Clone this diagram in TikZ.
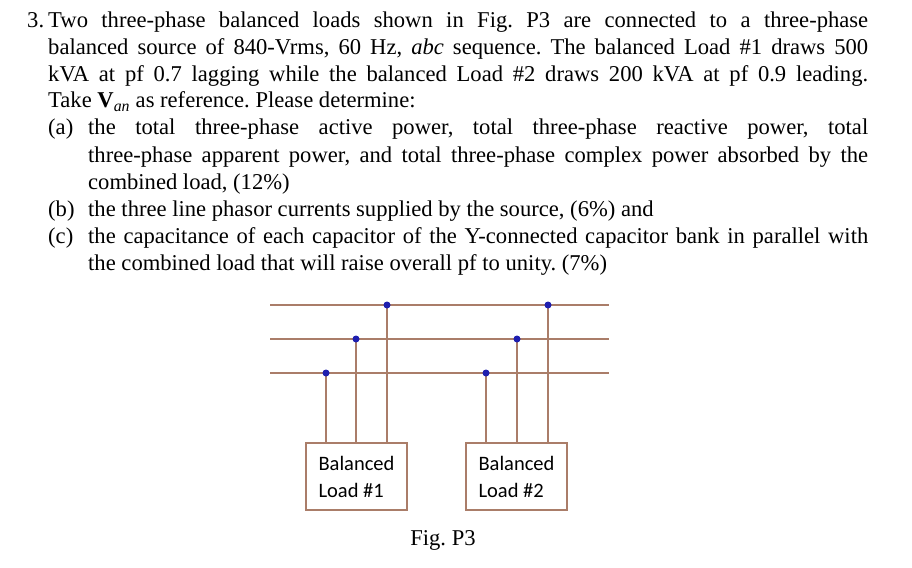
\documentclass[tikz,border=0pt]{standalone}
\usepackage{fontspec}
\setmainfont{Liberation Serif}
\newfontfamily\boxfont{Carlito}
\definecolor{wire}{RGB}{170,125,105}
\definecolor{dotc}{RGB}{30,30,175}
\frenchspacing
\begin{document}
\begin{tikzpicture}[x=1pt,y=-1pt,
  txt/.style={anchor=base west,inner sep=0pt,font=\fontsize{22.6}{25}\selectfont},
  wirel/.style={draw=wire,line width=1.1pt},
  jdot/.style={circle,fill=dotc,inner sep=0pt,minimum size=7pt},
  loadbox/.style={draw=wire,line width=1.1pt,minimum width=101pt,minimum height=67pt,inner sep=0pt,font=\boxfont\fontsize{20.5}{27}\selectfont,align=left}]
\useasboundingbox (0,0) rectangle (912,567);
\fill[white] (0,0) rectangle (912,567);
\node[txt] (n3) at (27,28) {3.};
\node[txt] (l1) at (48,28) {\makebox[820pt][s]{Two three-phase balanced loads shown in Fig. P3 are connected to a three-phase}};
\node[txt] (l2) at (48,55) {\makebox[820pt][s]{balanced source of 840-Vrms, 60 Hz, \textit{abc} sequence. The balanced Load \#1 draws 500}};
\node[txt] (l3) at (48,82) {\makebox[820pt][s]{kVA at pf 0.7 lagging while the balanced Load \#2 draws 200 kVA at pf 0.9 leading.}};
\node[txt] (l4) at (48,108) {Take \textbf{V}\textsubscript{\textit{an}} as reference. Please determine:};
\node[txt] (la) at (48,135) {(a)};
\node[txt] (l5) at (88,135) {\makebox[780pt][s]{the total three-phase active power, total three-phase reactive power, total}};
\node[txt] (l6) at (88,162) {\makebox[780pt][s]{three-phase apparent power, and total three-phase complex power absorbed by the}};
\node[txt] (l7) at (88,189) {combined load, (12\%)};
\node[txt] (lb) at (48,216) {(b)};
\node[txt] (l8) at (88,216) {the three line phasor currents supplied by the source, (6\%) and};
\node[txt] (lc) at (48,243) {(c)};
\node[txt] (l9) at (88,243) {\makebox[780pt][s]{the capacitance of each capacitor of the Y-connected capacitor bank in parallel with}};
\node[txt] (l10) at (88,270) {the combined load that will raise overall pf to unity. (7\%)};
\node[txt,anchor=base] (fig) at (443,545) {Fig. P3};
% bus lines
\coordinate (a0) at (270,305); \coordinate (a1) at (609,305);
\coordinate (b0) at (270,339); \coordinate (b1) at (609,339);
\coordinate (c0) at (270,373); \coordinate (c1) at (609,373);
\draw[wirel] (a0)--(a1); \draw[wirel] (b0)--(b1); \draw[wirel] (c0)--(c1);
\node[loadbox] (L1) at (356.5,476.5) {Balanced\\Load \#1};
\node[loadbox] (L2) at (516.5,476.5) {Balanced\\Load \#2};
\foreach \x/\y/\b/\n in {326/373/L1/p1,356/339/L1/p2,387/305/L1/p3,486/373/L2/q1,517/339/L2/q2,548/305/L2/q3}{
  \draw[wirel] (\x,\y) -- (\x,\y |- \b.north);
  \node[jdot] (\n) at (\x,\y) {};
}
\end{tikzpicture}
\end{document}
